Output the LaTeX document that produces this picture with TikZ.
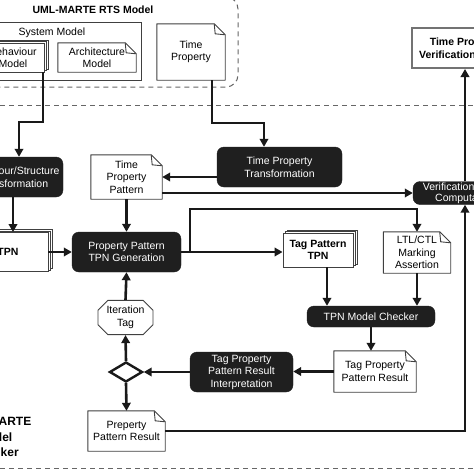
\documentclass[tikz,border=0pt]{standalone}
\usepackage{fontspec}
\setmainfont{Liberation Sans}
\usetikzlibrary{arrows.meta,shapes.geometric,shapes.misc,shadows}
\newcommand\fs{\fontsize{10.5}{12.5}\selectfont}
\newcommand\docout[1]{%
  \draw[docl] (#1.south west) -- (#1.north west) -- ([xshift=-11pt]#1.north east)
    -- ([yshift=-11pt]#1.north east) -- (#1.south east) -- cycle;
  \draw[docl] ([xshift=-11pt]#1.north east) -- ([xshift=-10pt,yshift=-10pt]#1.north east)
    -- ([yshift=-11pt]#1.north east);}
\begin{document}
\begin{tikzpicture}[x=1pt,y=-1pt,
  conn/.style={line width=2.6pt,draw=black!90,-{Triangle[length=8pt,width=8.5pt]}},
  plain/.style={line width=2.6pt,draw=black!90},
  blk/.style={rounded corners=7pt,fill=black!88,draw=black!88,text=white,align=center,font=\fs,inner sep=1pt},
  docn/.style={fill=white,align=center,font=\fs,inner sep=1pt},
  docl/.style={draw=black!75,line width=0.9pt,line join=round},
  stk/.style={draw=black!75,line width=0.9pt,fill=white,align=center,font=\fs\bfseries,inner sep=1pt,
    double copy shadow={shadow xshift=2pt,shadow yshift=1.5pt,draw=black!75,fill=white,line width=0.6pt}},
  boxn/.style={draw=black!75,line width=0.9pt,fill=white,align=center,font=\fs,inner sep=1pt},
  dashl/.style={draw=black!60,line width=1pt,dash pattern=on 5pt off 4pt}]
\useasboundingbox (0,0) rectangle (474,474);
\clip (0,0) rectangle (474,474);
\fill[white] (0,0) rectangle (474,474);

% dashed regions
\draw[dashl,rounded corners=12pt] (-40,-3) rectangle (238,87);
\node[font=\fs\bfseries] (umltitle) at (93,10) {UML-MARTE RTS Model};
\draw[dashl] (0,105) -- (474,105);
\draw[dashl] (0,468) -- (474,468);

% system model
\node[boxn,minimum width=162pt,minimum height=58pt] (sys) at (60,51) {};
\node[font=\fs] (systitle) at (52,33) {System Model};
\node[stk,minimum width=62pt,minimum height=29pt] (behav) at (13,57.5) {\mdseries Behaviour\\\mdseries Model};
\node[docn,minimum width=78pt,minimum height=29pt] (arch) at (97,57.5) {Architecture\\Model};
\docout{arch}
\node[docn,minimum width=68pt,minimum height=56pt] (timeprop) at (191,52) {Time\\Property};
\docout{timeprop}

% right top result
\node[draw=black!55,line width=2pt,fill=white,align=center,font=\fs\bfseries,minimum width=106pt,minimum height=40pt] (tpv) at (465,48) {Time Property\\Verification Result};

% transformations
\node[blk,minimum width=100pt,minimum height=40pt] (bst) at (13,177) {Behaviour/Structure\\Transformation};
\node[blk,minimum width=125pt,minimum height=40pt] (tpt) at (279.5,167) {Time Property\\Transformation};
\node[docn,minimum width=71pt,minimum height=44pt] (tpp) at (126.5,177) {Time\\Property\\Pattern};
\docout{tpp}
\node[blk,minimum width=104pt,minimum height=23pt,font=\fontsize{10.5}{11}\selectfont] (vrc) at (465,193) {Verification Result\\Computation};

% TPN level
\node[stk,minimum width=80pt,minimum height=39pt] (tpn) at (8,252) {TPN};
\node[blk,minimum width=109pt,minimum height=40pt] (pptg) at (126.5,252) {Property Pattern\\TPN Generation};
\node[stk,minimum width=70pt,minimum height=34pt] (tagtpn) at (318,250) {Tag Pattern\\TPN};
\node[docn,minimum width=67pt,minimum height=41pt] (ltl) at (417,252.5) {LTL/CTL\\Marking\\Assertion};
\docout{ltl}
\node[blk,minimum width=128pt,minimum height=21pt] (tmc) at (371,316.5) {TPN Model Checker};

% iteration
\node[chamfered rectangle,chamfered rectangle xsep=5pt,chamfered rectangle ysep=5pt,draw=black!75,line width=0.9pt,fill=white,align=center,font=\fs,inner sep=1pt,minimum width=55pt,minimum height=29pt] (itag) at (125.5,317.5) {Iteration\\Tag};
\node[docn,minimum width=82pt,minimum height=41pt] (tppr) at (375,371.5) {Tag Property\\Pattern Result};
\docout{tppr}
\node[blk,minimum width=103pt,minimum height=40pt] (tppri) at (241.5,372) {Tag Property\\Pattern Result\\Interpretation};
\node[diamond,draw=black!90,line width=2.4pt,fill=white,minimum width=33pt,minimum height=20pt,inner sep=0pt] (diam) at (126,372) {};
\node[docn,minimum width=77pt,minimum height=40pt] (ppr) at (126.5,431) {Preperty\\Pattern Result};
\docout{ppr}

\node[font=\fontsize{12}{15.5}\selectfont\bfseries,align=center] (mcl) at (-5,437) {UML-MARTE\\Model\\Checker};

% coordinates
\coordinate (b1) at (43,122);
\coordinate (b2) at (19,122);
\coordinate (c1) at (212,123);
\coordinate (c2) at (264,123);
\coordinate (j0) at (190,252);
\coordinate (j1) at (190,209);
\coordinate (j2) at (417,209);

% connectors
\draw[conn] (behav.south -| b1) -- (b1) -- (b2) -- (b2 |- bst.north);
\draw[conn] (bst.south) -- (bst.south |- tpn.north);
\draw[conn] (tpn.east) -- (pptg.west);
\draw[conn] (timeprop.south -| c1) -- (c1) -- (c2) -- (c2 |- tpt.north);
\draw[conn] (tpt.west |- tpp.east) -- (tpp.east);
\draw[conn] (tpp.east |- vrc.west) -- (vrc.west);
\draw[conn] (tpp.south) -- (pptg.north);
\draw[conn] (pptg.east) -- (pptg.east -| tagtpn.west);
\draw[conn] (j0) -- (j1) -- (j2) -- (j2 |- ltl.north);
\draw[conn] ([xshift=9pt]tagtpn.south) -- ([xshift=9pt]tagtpn.south |- tmc.north);
\draw[conn] (ltl.south) -- (ltl.south |- tmc.north);
\draw[conn] (tmc.south) -- (tmc.south |- tppr.north);
\draw[conn] (tppr.west) -- (tppr.west -| tppri.east);
\draw[conn] (tppri.west) -- (diam.east);
\draw[conn] (diam.north) -- (itag.south);
\draw[conn] (itag.north) -- (pptg.south);
\draw[conn] (diam.south) -- (ppr.north);
\draw[conn] (ppr.east) -- (ppr.east -| vrc.south) -- (vrc.south);
\draw[conn] (vrc.north) -- (tpv.south);
\end{tikzpicture}
\end{document}
